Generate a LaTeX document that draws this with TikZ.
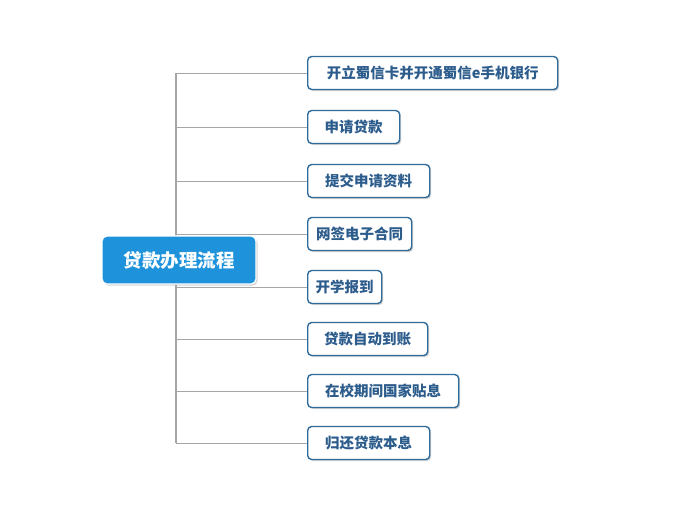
\documentclass[tikz,border=0pt]{standalone}
\usepackage{fontspec}
\newfontfamily\cjk{Noto Sans CJK SC}
\usetikzlibrary{shadows}
\definecolor{rootblue}{HTML}{1E93DB}
\definecolor{boxline}{HTML}{2F6C9C}
\definecolor{txtblue}{HTML}{2C5C8C}
\tikzset{
 stepbox/.style={draw=boxline,line width=1.4pt,fill=white,rounded corners=4pt,anchor=west,minimum height=33pt,inner xsep=4pt,font=\cjk\bfseries\fontsize{14.5}{14.5}\selectfont,text=txtblue,drop shadow={shadow xshift=1.5pt,shadow yshift=-1.5pt,fill=black!35}},
 rootbox/.style={draw=white,line width=1.2pt,fill=rootblue,rounded corners=5pt,minimum width=154pt,minimum height=48pt,font=\cjk\bfseries\fontsize{18.5}{18.5}\selectfont,text=white,drop shadow={shadow xshift=1.5pt,shadow yshift=-1.5pt,fill=black!35}},
 link/.style={draw=black!35,line width=0.8pt}
}
\begin{document}
\begin{tikzpicture}[x=1pt,y=-1pt]
\useasboundingbox (0,0) rectangle (678,512);
\coordinate (top) at (176,73);
\coordinate (bot) at (176,443);
\draw[black!35,line width=2pt] (top) -- (bot);
\foreach \n/\y/\w/\t in {a/73/250/开立蜀信卡并开通蜀信e手机银行,b/127/92/申请贷款,c/181/122/提交申请资料,d/234/104/网签电子合同,e/287/74/开学报到,f/339/120/贷款自动到账,g/391/151/在校期间国家贴息,h/443/122/归还贷款本息}{
  \coordinate (j\n) at (176,\y);
  \node[stepbox,minimum width=\w pt] (\n) at (307,\y) {\t};
  \draw[link] (j\n) -- (\n.west);
}
\node[rootbox] (root) at (179,260) {贷款办理流程};
\end{tikzpicture}
\end{document}
